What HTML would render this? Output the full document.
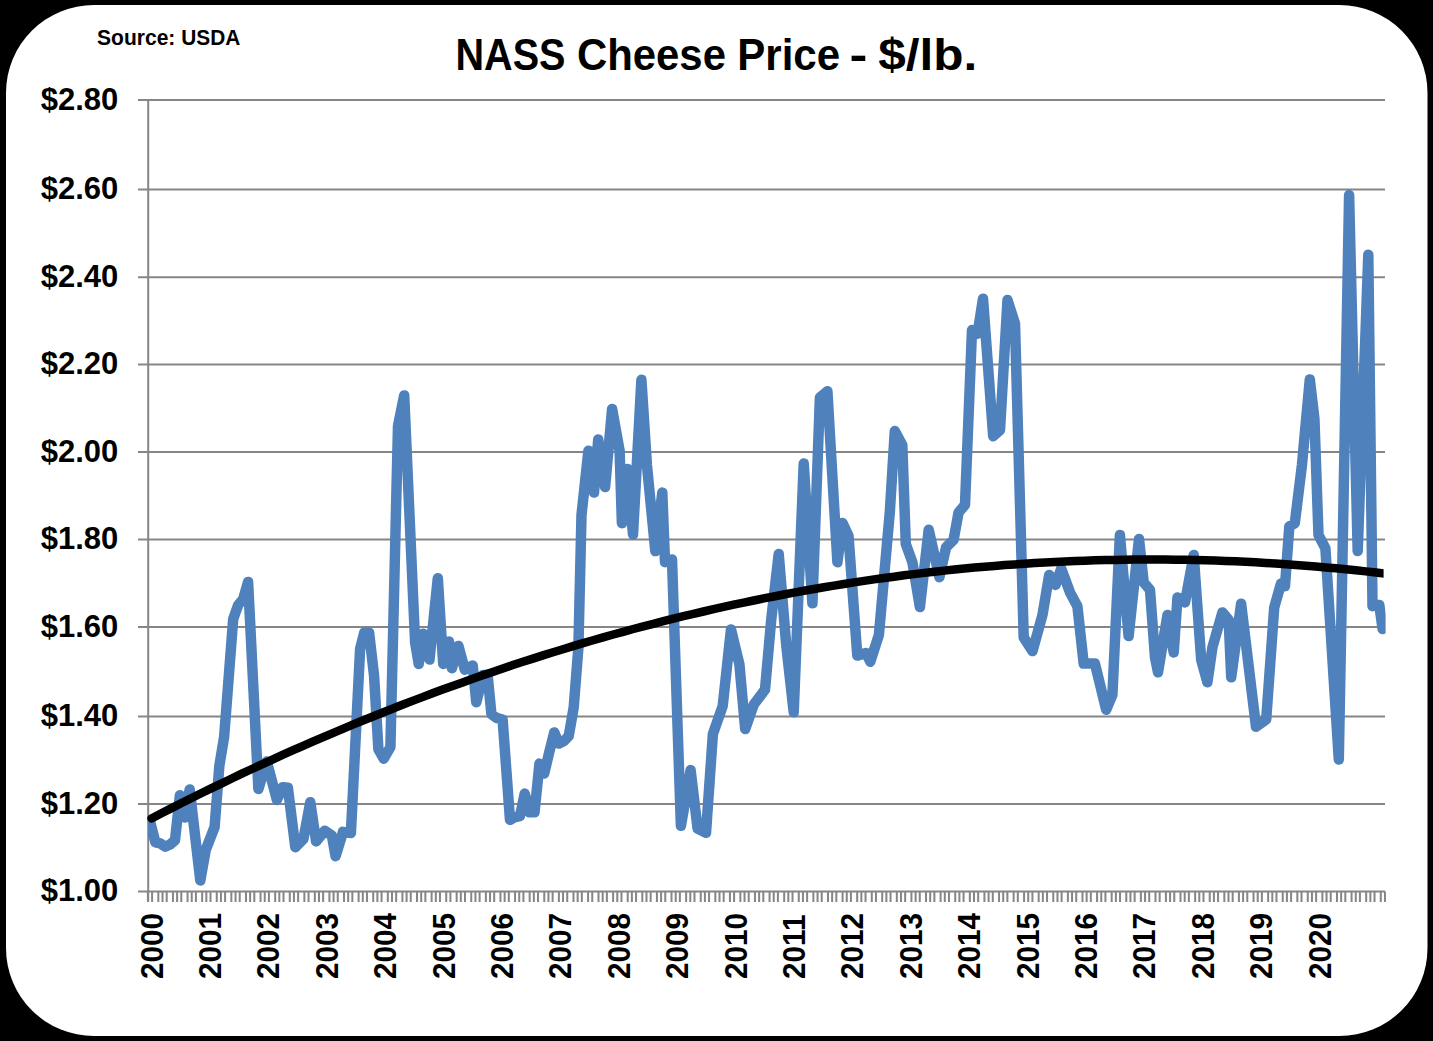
<!DOCTYPE html>
<html><head><meta charset="utf-8"><style>
html,body{margin:0;padding:0;background:#000;width:1433px;height:1041px;overflow:hidden}
svg{display:block}
text{font-family:"Liberation Sans",sans-serif;font-weight:bold;fill:#000}
.yl{font-size:31px}
.xl{font-size:31px}
.src{font-size:22.5px}
.ttl{font-size:44.8px}
</style></head><body>
<svg width="1433" height="1041" viewBox="0 0 1433 1041">
<rect x="6" y="5" width="1421.5" height="1031" rx="88" ry="88" fill="#fff"/>
<line x1="138" y1="100" x2="1385" y2="100" stroke="#868686" stroke-width="2"/>
<line x1="138" y1="189.6" x2="1385" y2="189.6" stroke="#868686" stroke-width="2"/>
<line x1="138" y1="277.2" x2="1385" y2="277.2" stroke="#868686" stroke-width="2"/>
<line x1="138" y1="364.6" x2="1385" y2="364.6" stroke="#868686" stroke-width="2"/>
<line x1="138" y1="452.0" x2="1385" y2="452.0" stroke="#868686" stroke-width="2"/>
<line x1="138" y1="539.6" x2="1385" y2="539.6" stroke="#868686" stroke-width="2"/>
<line x1="138" y1="627.0" x2="1385" y2="627.0" stroke="#868686" stroke-width="2"/>
<line x1="138" y1="716.5" x2="1385" y2="716.5" stroke="#868686" stroke-width="2"/>
<line x1="138" y1="804.0" x2="1385" y2="804.0" stroke="#868686" stroke-width="2"/>
<line x1="138" y1="891.5" x2="1385" y2="891.5" stroke="#868686" stroke-width="2"/>
<line x1="148.2" y1="99" x2="148.2" y2="902" stroke="#868686" stroke-width="2"/>
<path d="M147.92 891.5V902M152.09 891.5V902M158.35 891.5V902M162.52 891.5V902M166.69 891.5V902M172.95 891.5V902M177.12 891.5V902M181.30 891.5V902M187.56 891.5V902M191.73 891.5V902M195.90 891.5V902M202.16 891.5V902M206.33 891.5V902M210.50 891.5V902M216.76 891.5V902M220.93 891.5V902M225.10 891.5V902M231.36 891.5V902M235.53 891.5V902M239.71 891.5V902M245.97 891.5V902M250.14 891.5V902M254.31 891.5V902M260.57 891.5V902M264.74 891.5V902M268.91 891.5V902M275.17 891.5V902M279.34 891.5V902M283.51 891.5V902M289.77 891.5V902M293.94 891.5V902M298.12 891.5V902M304.38 891.5V902M308.55 891.5V902M314.81 891.5V902M318.98 891.5V902M323.15 891.5V902M329.41 891.5V902M333.58 891.5V902M337.75 891.5V902M344.01 891.5V902M348.18 891.5V902M352.35 891.5V902M358.61 891.5V902M362.79 891.5V902M366.96 891.5V902M373.22 891.5V902M377.39 891.5V902M381.56 891.5V902M387.82 891.5V902M391.99 891.5V902M396.16 891.5V902M402.42 891.5V902M406.59 891.5V902M410.76 891.5V902M417.02 891.5V902M421.20 891.5V902M425.37 891.5V902M431.63 891.5V902M435.80 891.5V902M439.97 891.5V902M446.23 891.5V902M450.40 891.5V902M456.66 891.5V902M460.83 891.5V902M465.00 891.5V902M471.26 891.5V902M475.43 891.5V902M479.61 891.5V902M485.86 891.5V902M490.04 891.5V902M494.21 891.5V902M500.47 891.5V902M504.64 891.5V902M508.81 891.5V902M515.07 891.5V902M519.24 891.5V902M523.41 891.5V902M529.67 891.5V902M533.84 891.5V902M538.02 891.5V902M544.27 891.5V902M548.45 891.5V902M552.62 891.5V902M558.88 891.5V902M563.05 891.5V902M567.22 891.5V902M573.48 891.5V902M577.65 891.5V902M581.82 891.5V902M588.08 891.5V902M592.25 891.5V902M598.51 891.5V902M602.68 891.5V902M606.86 891.5V902M613.11 891.5V902M617.29 891.5V902M621.46 891.5V902M627.72 891.5V902M631.89 891.5V902M636.06 891.5V902M642.32 891.5V902M646.49 891.5V902M650.66 891.5V902M656.92 891.5V902M661.09 891.5V902M665.27 891.5V902M671.52 891.5V902M675.70 891.5V902M679.87 891.5V902M686.13 891.5V902M690.30 891.5V902M694.47 891.5V902M700.73 891.5V902M704.90 891.5V902M709.07 891.5V902M715.33 891.5V902M719.50 891.5V902M723.68 891.5V902M729.93 891.5V902M734.11 891.5V902M740.36 891.5V902M744.54 891.5V902M748.71 891.5V902M754.97 891.5V902M759.14 891.5V902M763.31 891.5V902M769.57 891.5V902M773.74 891.5V902M777.91 891.5V902M784.17 891.5V902M788.34 891.5V902M792.52 891.5V902M798.77 891.5V902M802.95 891.5V902M807.12 891.5V902M813.38 891.5V902M817.55 891.5V902M821.72 891.5V902M827.98 891.5V902M832.15 891.5V902M836.32 891.5V902M842.58 891.5V902M846.75 891.5V902M850.93 891.5V902M857.18 891.5V902M861.36 891.5V902M865.53 891.5V902M871.79 891.5V902M875.96 891.5V902M882.22 891.5V902M886.39 891.5V902M890.56 891.5V902M896.82 891.5V902M900.99 891.5V902M905.16 891.5V902M911.42 891.5V902M915.59 891.5V902M919.77 891.5V902M926.02 891.5V902M930.20 891.5V902M934.37 891.5V902M940.63 891.5V902M944.80 891.5V902M948.97 891.5V902M955.23 891.5V902M959.40 891.5V902M963.57 891.5V902M969.83 891.5V902M974.00 891.5V902M978.18 891.5V902M984.43 891.5V902M988.61 891.5V902M992.78 891.5V902M999.04 891.5V902M1003.21 891.5V902M1007.38 891.5V902M1013.64 891.5V902M1017.81 891.5V902M1024.07 891.5V902M1028.24 891.5V902M1032.41 891.5V902M1038.67 891.5V902M1042.84 891.5V902M1047.02 891.5V902M1053.27 891.5V902M1057.45 891.5V902M1061.62 891.5V902M1067.88 891.5V902M1072.05 891.5V902M1076.22 891.5V902M1082.48 891.5V902M1086.65 891.5V902M1090.82 891.5V902M1097.08 891.5V902M1101.25 891.5V902M1105.43 891.5V902M1111.68 891.5V902M1115.86 891.5V902M1120.03 891.5V902M1126.29 891.5V902M1130.46 891.5V902M1134.63 891.5V902M1140.89 891.5V902M1145.06 891.5V902M1149.23 891.5V902M1155.49 891.5V902M1159.66 891.5V902M1165.92 891.5V902M1170.09 891.5V902M1174.27 891.5V902M1180.52 891.5V902M1184.70 891.5V902M1188.87 891.5V902M1195.13 891.5V902M1199.30 891.5V902M1203.47 891.5V902M1209.73 891.5V902M1213.90 891.5V902M1218.07 891.5V902M1224.33 891.5V902M1228.50 891.5V902M1232.68 891.5V902M1238.93 891.5V902M1243.11 891.5V902M1247.28 891.5V902M1253.54 891.5V902M1257.71 891.5V902M1261.88 891.5V902M1268.14 891.5V902M1272.31 891.5V902M1276.48 891.5V902M1282.74 891.5V902M1286.91 891.5V902M1291.09 891.5V902M1297.34 891.5V902M1301.52 891.5V902M1307.77 891.5V902M1311.95 891.5V902M1316.12 891.5V902M1322.38 891.5V902M1326.55 891.5V902M1330.72 891.5V902M1336.98 891.5V902M1341.15 891.5V902M1345.32 891.5V902M1351.58 891.5V902M1355.75 891.5V902M1359.93 891.5V902M1366.18 891.5V902M1370.36 891.5V902M1374.53 891.5V902M1380.79 891.5V902M1384.96 891.5V902" stroke="#868686" stroke-width="2" fill="none"/>
<clipPath id="pc"><rect x="148" y="0" width="1237.6" height="1041"/></clipPath>
<path d="M150.4 822.8 L155.4 842.4 L160.2 843.4 L165.2 846.6 L170.1 844.5 L175 840.3 L179.9 795.3 L184.9 817.5 L189.7 789.5 L200.3 880.5 L205.7 850 L214.6 827 L219.4 765.4 L224.1 737.1 L233.2 619 L238.2 605 L243.2 599 L248.1 581.9 L258.4 788.9 L266.8 761.5 L276.9 799.9 L282.7 787.3 L287.9 787.8 L295.3 847.2 L303.4 839.1 L310.3 802.2 L316.1 841.4 L324.9 830.7 L331.9 835.6 L335.6 856.2 L343 831.9 L350.9 833 L360.1 649 L364.2 632.7 L369.1 632.7 L374 675.1 L378.4 749.1 L383.7 758.7 L390.4 747.2 L398 426 L404.2 395.4 L415.1 642.3 L418.7 663.9 L423.1 633.7 L429.5 659.6 L437.8 578.2 L443.2 663.9 L449 641.6 L451.9 668.2 L458.4 645.9 L464.8 669.7 L472.7 665.5 L476.3 702.2 L483.2 675 L487.6 675 L491.4 714.1 L496.4 717.9 L502.6 719.5 L510 819.8 L515 817 L520 816 L524.7 793.6 L529.7 812.3 L534.5 812.3 L539.5 763.6 L544.2 773.6 L549.2 752.4 L554.2 732.4 L558.9 743.6 L563.9 741.1 L568.7 736.2 L573.7 707.4 L578.4 647.5 L581.5 514.9 L588.4 450.8 L594 492.6 L598.2 439.6 L605.1 487 L612.1 409 L619.6 450.8 L621.9 523.2 L627.4 468.9 L633 534.4 L641.4 379.8 L646.9 464.7 L655.3 551.1 L662.3 492.6 L665 562.2 L672 559.4 L680.9 825.8 L690.6 770.1 L697.6 828.6 L706 832.8 L712.9 733.9 L722.7 706 L731 629.4 L739.4 664.2 L745.2 729 L753.7 704.7 L765 689.7 L771.2 619.9 L778.7 554 L786.2 644.8 L793.7 712.2 L803.7 463.6 L812.4 603.3 L819.9 397.5 L827.4 391.2 L837.4 562.2 L842.5 523 L848.5 536 L857.3 655.6 L865.9 653 L870.3 661.7 L878.9 634.9 L889.8 512.3 L894.8 431.1 L902.3 444.9 L905.8 544 L912.4 562.2 L919.9 607.1 L928.7 529.8 L939.4 577.2 L946.1 547.2 L953.6 539.8 L958.6 512.3 L965 504.8 L972 330 L977.5 333.7 L983 298.7 L993.2 436.2 L1000 430 L1007.5 300 L1015 323.7 L1023.7 637.4 L1032.5 651.1 L1042.5 614.9 L1049.2 574.9 L1055.5 584.9 L1061.2 568.7 L1070 592.4 L1077.4 606.2 L1083.7 663.6 L1094.9 663.6 L1106.2 709.8 L1112.4 694.8 L1119.9 535 L1128.6 636.1 L1139 539 L1143.7 582.4 L1150 589.9 L1155 657.4 L1158 672.3 L1167.5 614.9 L1173.7 652.4 L1177.5 597.4 L1185 602.4 L1193.7 555 L1201.2 659.9 L1207.4 682.3 L1212.4 647.4 L1222.4 612.4 L1228.7 619.9 L1231.2 677.3 L1241.1 603.7 L1256 726.8 L1266.2 719.5 L1274.2 607.7 L1281 583.5 L1285 586.2 L1289.3 526.5 L1294.8 523.2 L1302 464.6 L1309.8 379.4 L1314.4 418.5 L1318.5 535 L1325.4 548.4 L1338.8 759.5 L1349.1 195 L1357.7 551.1 L1368.3 254.7 L1372.5 606.2 L1379.3 604.9 L1382.6 629" stroke="#4F81BD" stroke-width="10.5" fill="none" stroke-linejoin="round" stroke-linecap="round" clip-path="url(#pc)"/>
<clipPath id="tc"><rect x="0" y="0" width="1383.6" height="1041"/></clipPath>
<path d="M151.5 818.4 L161.5 813.2 L171.6 808.1 L181.6 803 L191.6 798 L201.7 793 L211.7 788.1 L221.8 783.3 L231.8 778.5 L241.8 773.7 L251.9 769 L261.9 764.4 L271.9 759.8 L282 755.2 L292 750.7 L302 746.3 L312.1 741.9 L322.1 737.6 L332.2 733.3 L342.2 729.1 L352.2 724.9 L362.3 720.8 L372.3 716.7 L382.3 712.7 L392.4 708.7 L402.4 704.8 L412.5 700.9 L422.5 697.1 L432.5 693.3 L442.6 689.6 L452.6 686 L462.6 682.4 L472.7 678.8 L482.7 675.3 L492.7 671.9 L502.8 668.5 L512.8 665.1 L522.9 661.8 L532.9 658.6 L542.9 655.4 L553 652.3 L563 649.2 L573 646.1 L583.1 643.2 L593.1 640.2 L603.1 637.4 L613.2 634.5 L623.2 631.8 L633.3 629 L643.3 626.4 L653.3 623.8 L663.4 621.2 L673.4 618.7 L683.4 616.2 L693.5 613.8 L703.5 611.5 L713.5 609.2 L723.6 606.9 L733.6 604.7 L743.7 602.6 L753.7 600.5 L763.7 598.4 L773.8 596.5 L783.8 594.5 L793.8 592.6 L803.9 590.8 L813.9 589 L824 587.3 L834 585.6 L844 584 L854.1 582.4 L864.1 580.9 L874.1 579.4 L884.2 578 L894.2 576.7 L904.2 575.3 L914.3 574.1 L924.3 572.9 L934.4 571.7 L944.4 570.6 L954.4 569.6 L964.5 568.6 L974.5 567.6 L984.5 566.7 L994.6 565.9 L1004.6 565.1 L1014.6 564.4 L1024.7 563.7 L1034.7 563 L1044.8 562.5 L1054.8 561.9 L1064.8 561.5 L1074.9 561 L1084.9 560.7 L1094.9 560.3 L1105 560.1 L1115 559.9 L1125 559.7 L1135.1 559.6 L1145.1 559.5 L1155.2 559.5 L1165.2 559.6 L1175.2 559.7 L1185.3 559.8 L1195.3 560 L1205.3 560.3 L1215.4 560.6 L1225.4 560.9 L1235.5 561.3 L1245.5 561.8 L1255.5 562.3 L1265.6 562.9 L1275.6 563.5 L1285.6 564.2 L1295.7 564.9 L1305.7 565.7 L1315.7 566.5 L1325.8 567.4 L1335.8 568.3 L1345.9 569.3 L1355.9 570.3 L1365.9 571.4 L1376 572.5 L1386 573.7" stroke="#000" stroke-width="8.5" fill="none" stroke-linecap="round" clip-path="url(#tc)"/>
<text x="118.3" y="109.7" text-anchor="end" class="yl">$2.80</text>
<text x="118.3" y="199.3" text-anchor="end" class="yl">$2.60</text>
<text x="118.3" y="286.9" text-anchor="end" class="yl">$2.40</text>
<text x="118.3" y="374.3" text-anchor="end" class="yl">$2.20</text>
<text x="118.3" y="461.7" text-anchor="end" class="yl">$2.00</text>
<text x="118.3" y="549.3" text-anchor="end" class="yl">$1.80</text>
<text x="118.3" y="636.7" text-anchor="end" class="yl">$1.60</text>
<text x="118.3" y="726.2" text-anchor="end" class="yl">$1.40</text>
<text x="118.3" y="813.7" text-anchor="end" class="yl">$1.20</text>
<text x="118.3" y="901.2" text-anchor="end" class="yl">$1.00</text>
<text transform="translate(162.5 979) rotate(-90) scale(0.958 1)" class="xl">2000</text>
<text transform="translate(220.9 979) rotate(-90) scale(0.958 1)" class="xl">2001</text>
<text transform="translate(279.3 979) rotate(-90) scale(0.958 1)" class="xl">2002</text>
<text transform="translate(337.7 979) rotate(-90) scale(0.958 1)" class="xl">2003</text>
<text transform="translate(396.1 979) rotate(-90) scale(0.958 1)" class="xl">2004</text>
<text transform="translate(454.5 979) rotate(-90) scale(0.958 1)" class="xl">2005</text>
<text transform="translate(512.9 979) rotate(-90) scale(0.958 1)" class="xl">2006</text>
<text transform="translate(571.3 979) rotate(-90) scale(0.958 1)" class="xl">2007</text>
<text transform="translate(629.7 979) rotate(-90) scale(0.958 1)" class="xl">2008</text>
<text transform="translate(688.1 979) rotate(-90) scale(0.958 1)" class="xl">2009</text>
<text transform="translate(746.5 979) rotate(-90) scale(0.958 1)" class="xl">2010</text>
<text transform="translate(804.9 979) rotate(-90) scale(0.958 1)" class="xl">2011</text>
<text transform="translate(863.3 979) rotate(-90) scale(0.958 1)" class="xl">2012</text>
<text transform="translate(921.7 979) rotate(-90) scale(0.958 1)" class="xl">2013</text>
<text transform="translate(980.1 979) rotate(-90) scale(0.958 1)" class="xl">2014</text>
<text transform="translate(1038.5 979) rotate(-90) scale(0.958 1)" class="xl">2015</text>
<text transform="translate(1096.9 979) rotate(-90) scale(0.958 1)" class="xl">2016</text>
<text transform="translate(1155.3 979) rotate(-90) scale(0.958 1)" class="xl">2017</text>
<text transform="translate(1213.7 979) rotate(-90) scale(0.958 1)" class="xl">2018</text>
<text transform="translate(1272.1 979) rotate(-90) scale(0.958 1)" class="xl">2019</text>
<text transform="translate(1330.5 979) rotate(-90) scale(0.958 1)" class="xl">2020</text>
<text transform="translate(455.45 69.9) scale(0.8842 1)" class="ttl">NASS</text>
<text transform="translate(576.93 69.9) scale(0.9353 1)" class="ttl">Cheese</text>
<text transform="translate(737.29 69.9) scale(0.9381 1)" class="ttl">Price</text>
<text transform="translate(849.50 69.9) scale(1.2000 1)" class="ttl">-</text>
<text transform="translate(878.29 69.9) scale(1.1058 1)" class="ttl">$/lb.</text>
<text transform="translate(97.07 44.8) scale(0.9346 1)" class="src">Source:</text>
<text transform="translate(181.17 44.8) scale(0.9274 1)" class="src">USDA</text>
</svg>
</body></html>
